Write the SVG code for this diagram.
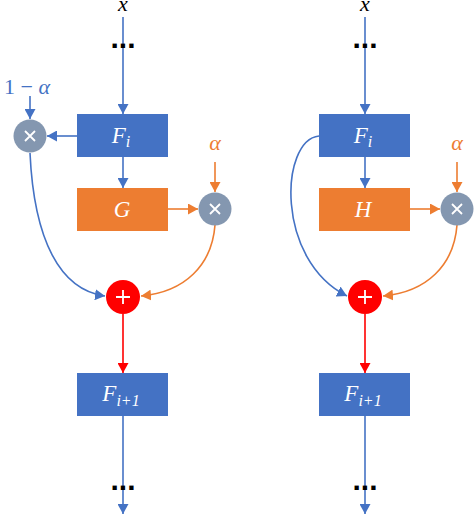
<svg xmlns="http://www.w3.org/2000/svg" width="474" height="515" viewBox="0 0 474 515">
<defs>
<marker id="ab" viewBox="0 0 10 10" refX="10" refY="5" markerWidth="10" markerHeight="11" orient="auto" markerUnits="userSpaceOnUse" preserveAspectRatio="none"><path d="M0,0 L10,5 L0,10 z" fill="#4472C4"/></marker>
<marker id="ao" viewBox="0 0 10 10" refX="10" refY="5" markerWidth="10" markerHeight="11" orient="auto" markerUnits="userSpaceOnUse" preserveAspectRatio="none"><path d="M0,0 L10,5 L0,10 z" fill="#ED7D31"/></marker>
<marker id="ar" viewBox="0 0 10 10" refX="10" refY="5" markerWidth="10" markerHeight="11" orient="auto" markerUnits="userSpaceOnUse" preserveAspectRatio="none"><path d="M0,0 L10,5 L0,10 z" fill="#FF0000"/></marker>
</defs>
<style>
.b{fill:#4472C4}
.o{fill:#ED7D31}
.g{fill:#8497B0}
.r{fill:#FF0000}
.lb{stroke:#4472C4;stroke-width:1.6;fill:none}
.lo{stroke:#ED7D31;stroke-width:1.6;fill:none}
.lr{stroke:#FF0000;stroke-width:1.6;fill:none}
.t{font-family:"Liberation Serif",serif;font-style:italic;fill:#fff;font-size:23px;text-anchor:middle}
.s{font-size:16px}
.sym{stroke:#fff;stroke-width:1.8}
.dots{font-family:"Liberation Sans",sans-serif;font-weight:bold;font-size:30px;text-anchor:middle;fill:#000}
.lab{font-family:"Liberation Serif",serif;font-style:italic;font-size:22px;text-anchor:middle}
</style>
<g id="connectors">
<line class="lb" x1="123" y1="17" x2="123" y2="114" marker-end="url(#ab)"/>
<line class="lb" x1="77" y1="136" x2="47" y2="136" marker-end="url(#ab)"/>
<line class="lb" x1="30" y1="96" x2="30" y2="119" marker-end="url(#ab)"/>
<line class="lb" x1="123" y1="157" x2="123" y2="188" marker-end="url(#ab)"/>
<line class="lo" x1="168" y1="209" x2="198" y2="209" marker-end="url(#ao)"/>
<line class="lo" x1="215" y1="162" x2="215" y2="192" marker-end="url(#ao)"/>
<path class="lb" d="M30,153 C34,240 60,290 105,296" marker-end="url(#ab)"/>
<path class="lo" d="M215,225 C212,265 185,292 141,296" marker-end="url(#ao)"/>
<line class="lr" x1="123" y1="314" x2="123" y2="373" marker-end="url(#ar)"/>
<line class="lb" x1="123" y1="416" x2="123" y2="514" marker-end="url(#ab)"/>

<line class="lb" x1="365" y1="17" x2="365" y2="114" marker-end="url(#ab)"/>
<line class="lb" x1="365" y1="157" x2="365" y2="188" marker-end="url(#ab)"/>
<line class="lo" x1="410" y1="209" x2="440" y2="209" marker-end="url(#ao)"/>
<line class="lo" x1="457" y1="162" x2="457" y2="192" marker-end="url(#ao)"/>
<path class="lb" d="M319,136 C280,140 275,260 347,296" marker-end="url(#ab)"/>
<path class="lo" d="M457,225 C454,265 427,292 383,296" marker-end="url(#ao)"/>
<line class="lr" x1="365" y1="314" x2="365" y2="373" marker-end="url(#ar)"/>
<line class="lb" x1="365" y1="416" x2="365" y2="514" marker-end="url(#ab)"/>
</g>

<g id="labels">
<text class="lab" x="123" y="11" fill="#000">x</text>
<text class="dots" x="123" y="48">...</text>
<text class="lab" x="27" y="94" fill="#4472C4" style="font-style:normal">1 − <tspan style="font-style:italic">α</tspan></text>
<text class="lab" x="215" y="150" fill="#ED7D31">α</text>
<text class="dots" x="123" y="490">...</text>
<text class="lab" x="365" y="11" fill="#000">x</text>
<text class="dots" x="365" y="48">...</text>
<text class="lab" x="457" y="150" fill="#ED7D31">α</text>
<text class="dots" x="365" y="490">...</text>
</g>

<g id="F_i_left"><rect class="b" x="77" y="114" width="91" height="43"/><text class="t" x="121" y="143">F<tspan class="s" dy="4">i</tspan></text></g>
<g id="G"><rect class="o" x="77" y="188" width="91" height="43"/><text class="t" x="122" y="217">G</text></g>
<g id="mul_left_a"><circle class="g" cx="30" cy="136" r="16.5"/><path class="sym" d="M25,131 L35,141 M35,131 L25,141"/></g>
<g id="mul_left_b"><circle class="g" cx="215" cy="209" r="16.5"/><path class="sym" d="M210,204 L220,214 M220,204 L210,214"/></g>
<g id="plus_left"><circle class="r" cx="123" cy="297" r="17"/><path class="sym" d="M123,290 L123,304 M116,297 L130,297"/></g>
<g id="F_i1_left"><rect class="b" x="77" y="373" width="91" height="43"/><text class="t" x="121" y="401">F<tspan class="s" dy="5">i+1</tspan></text></g>

<g id="F_i_right"><rect class="b" x="319" y="114" width="91" height="43"/><text class="t" x="363" y="143">F<tspan class="s" dy="4">i</tspan></text></g>
<g id="H"><rect class="o" x="319" y="188" width="91" height="43"/><text class="t" x="363" y="217">H</text></g>
<g id="mul_right"><circle class="g" cx="457" cy="209" r="16.5"/><path class="sym" d="M452,204 L462,214 M462,204 L452,214"/></g>
<g id="plus_right"><circle class="r" cx="365" cy="297" r="17"/><path class="sym" d="M365,290 L365,304 M358,297 L372,297"/></g>
<g id="F_i1_right"><rect class="b" x="319" y="373" width="91" height="43"/><text class="t" x="363" y="401">F<tspan class="s" dy="5">i+1</tspan></text></g>
</svg>
